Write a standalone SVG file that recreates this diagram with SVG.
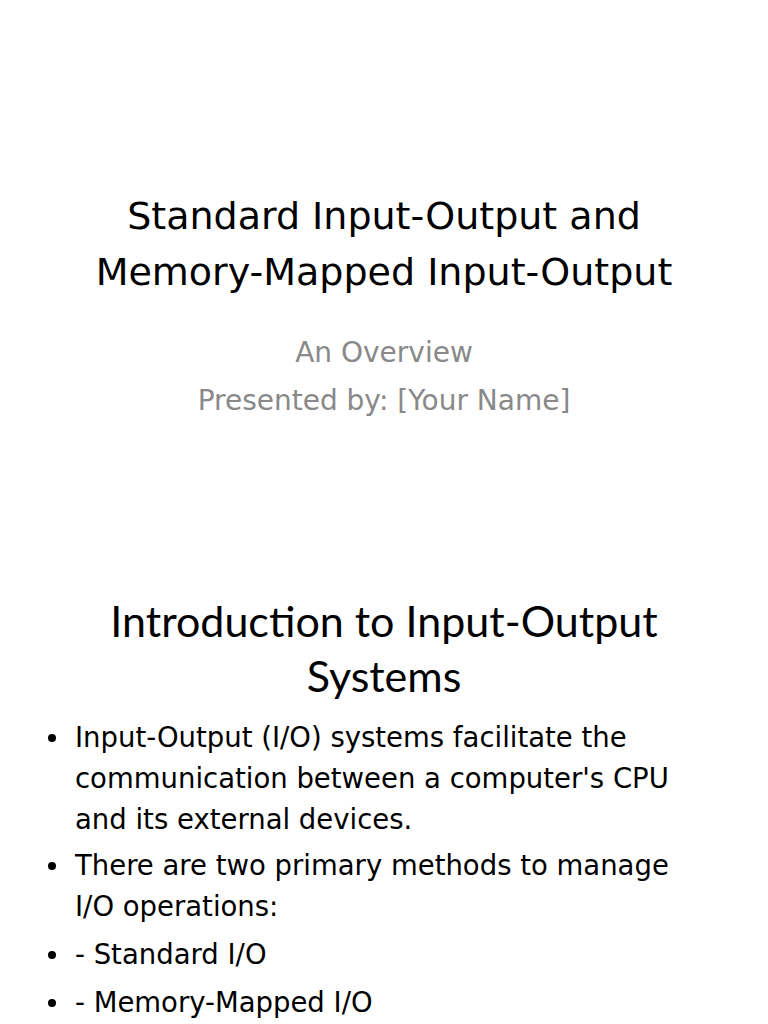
<svg xmlns="http://www.w3.org/2000/svg" width="768" height="1024" viewBox="0 0 768 1024">
<style>
.t{font-family:"DejaVu Sans",sans-serif;fill:#000;text-anchor:middle}
.s{font-family:"DejaVu Sans",sans-serif;fill:#898989;text-anchor:middle;font-size:28px}
.h{font-family:Lato,"Open Sans",sans-serif;fill:#000;text-anchor:middle;font-size:43px}
.b{font-family:"DejaVu Sans",sans-serif;fill:#000;font-size:27.5px}
</style>
<rect width="768" height="1024" fill="#fff"/>
<g id="title">
<text class="t" x="384" y="229" font-size="38">Standard Input-Output and</text>
<text class="t" x="384" y="285" font-size="38">Memory-Mapped Input-Output</text>
</g>
<g id="subtitle">
<text class="s" x="384" y="362">An Overview</text>
<text class="s" x="384" y="410">Presented by: [Your Name]</text>
</g>
<g id="heading">
<text class="h" x="384" y="637">Introduction to Input-Output</text>
<text class="h" x="384" y="692">Systems</text>
</g>
<g id="bullets">
<circle cx="52" cy="738" r="4"/>
<text class="b" x="75" y="747">Input-Output (I/O) systems facilitate the</text>
<text class="b" x="75" y="788">communication between a computer's CPU</text>
<text class="b" x="75" y="829">and its external devices.</text>
<circle cx="52" cy="866" r="4"/>
<text class="b" x="75" y="875">There are two primary methods to manage</text>
<text class="b" x="75" y="916">I/O operations:</text>
<circle cx="52" cy="955" r="4"/>
<text class="b" x="75" y="964">- Standard I/O</text>
<circle cx="52" cy="1003" r="4"/>
<text class="b" x="75" y="1012">- Memory-Mapped I/O</text>
</g>
</svg>
